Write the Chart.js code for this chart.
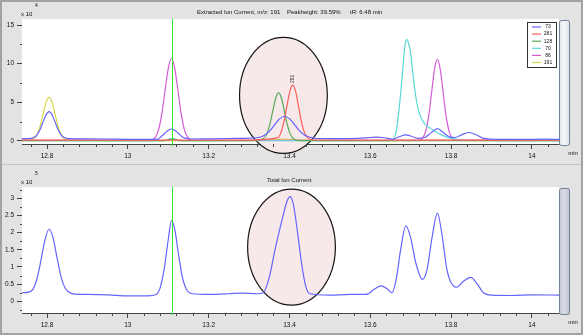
<!DOCTYPE html>
<html>
<head>
<meta charset="utf-8">
<script src="https://cdn.jsdelivr.net/npm/chart.js@4.4.1/dist/chart.umd.min.js"></script>
<style>
html, body { margin: 0; padding: 0; }
body { width: 583px; height: 335px; position: relative; background: #e3e3e3; overflow: hidden; }
#frame { position: absolute; left: 0; top: 0; width: 579px; height: 331px; border: 2px solid #a2a2a2; }
#sep { position: absolute; left: 2px; top: 164px; width: 579px; height: 1px; background: #c4c4c4; }
canvas { position: absolute; left: 0; }
#top { top: 0; }
#bot { top: 165px; }
</style>
</head>
<body>
<div id="frame"></div>
<div id="sep"></div>
<canvas id="top" width="583" height="165" style="width:583px;height:165px"></canvas>
<canvas id="bot" width="583" height="170" style="width:583px;height:170px"></canvas>
<script>
const FONT = '"Liberation Sans", Arial, sans-serif'

// x range in minutes
const xMin = 12.738
const xMax = 14.067
const markerTime = 13.11

// extracted ion traces, values x 10^4
const labels = ['73', '281', '128', '70', '86', '191']
const colors = ['#6464ff', '#ff5c5c', '#5aa85a', '#5ad8d8', '#d45ad4', '#d8d848']

const t73 = [12.738, 12.76, 12.7675, 12.775, 12.7825, 12.79, 12.7975, 12.805, 12.8125, 12.82, 12.8275, 12.835, 12.8425, 12.855,
  12.9, 12.95, 13.0, 13.05, 13.075, 13.084, 13.092, 13.1, 13.108, 13.116, 13.124, 13.132, 13.14, 13.155,
  13.2, 13.25, 13.3, 13.3255, 13.338, 13.3505, 13.363, 13.3755, 13.388, 13.4005, 13.413, 13.4255, 13.438, 13.4505, 13.47,
  13.52, 13.57, 13.6, 13.615, 13.635, 13.655, 13.672, 13.686, 13.70, 13.718, 13.735, 13.75, 13.766, 13.782, 13.797,
  13.81, 13.828, 13.845, 13.862, 13.88, 13.92, 13.98, 14.03, 14.067]
const y73 = [0.3, 0.33, 0.45, 0.77, 1.44, 2.44, 3.38, 3.8, 3.38, 2.44, 1.44, 0.77, 0.45, 0.3,
  0.28, 0.26, 0.22, 0.22, 0.25, 0.65, 1.03, 1.39, 1.55, 1.39, 1.03, 0.65, 0.4, 0.26,
  0.28, 0.32, 0.38, 0.48, 0.74, 1.28, 2.09, 2.86, 3.2, 2.86, 2.09, 1.28, 0.74, 0.48, 0.32,
  0.3, 0.35, 0.45, 0.5, 0.42, 0.25, 0.55, 0.8, 0.65, 0.35, 0.45, 1.05, 1.6, 1.05, 0.5,
  0.45, 0.85, 1.1, 0.8, 0.35, 0.22, 0.2, 0.24, 0.2]

const t281 = [12.738, 13.0, 13.2, 13.3, 13.3715, 13.3788, 13.386, 13.3935, 13.4007, 13.408, 13.4153, 13.4225, 13.4298, 13.437, 13.4445, 13.46, 13.6, 14.067]
const y281 = [0.12, 0.12, 0.12, 0.12, 0.43, 1.08, 2.44, 4.47, 6.39, 7.25, 6.39, 4.47, 2.44, 1.08, 0.43, 0.13, 0.12, 0.12]

const t128 = [12.738, 13.09, 13.11, 13.13, 13.3, 13.3365, 13.3438, 13.351, 13.3585, 13.3657, 13.373, 13.3803, 13.3875, 13.3948, 13.402, 13.4095, 13.425, 14.067]
const y128 = [0.05, 0.05, 0.25, 0.05, 0.05, 0.32, 0.89, 2.07, 3.83, 5.5, 6.25, 5.5, 3.83, 2.07, 0.89, 0.32, 0.06, 0.05]

const t70 = [12.738, 13.09, 13.11, 13.13, 13.64, 13.655, 13.665, 13.672, 13.68, 13.686, 13.69, 13.695, 13.70, 13.707, 13.714, 13.721, 13.735, 13.75, 13.762, 13.78, 13.803, 13.83, 14.067]
const y70 = [0.03, 0.03, 0.35, 0.03, 0.03, 0.1, 1.5, 4.5, 9.0, 12.4, 13.15, 12.6, 11.3, 8.0, 5.3, 3.6, 2.2, 1.6, 1.2, 0.7, 0.3, 0.1, 0.03]

const t86 = [12.738, 13.05, 13.058, 13.068, 13.076, 13.084, 13.092, 13.1, 13.108, 13.116, 13.124, 13.132, 13.14, 13.148, 13.16,
  13.72, 13.731, 13.738, 13.745, 13.752, 13.759, 13.766, 13.773, 13.78, 13.787, 13.794, 13.801, 13.812, 14.067]
const y86 = [0.08, 0.08, 0.1, 0.5, 1.45, 3.5, 6.5, 9.4, 10.7, 9.4, 6.5, 3.5, 1.45, 0.5, 0.1,
  0.1, 0.5, 1.45, 3.4, 6.4, 9.3, 10.55, 9.3, 6.4, 3.4, 1.45, 0.5, 0.12, 0.08]

const t191 = [12.738, 12.76, 12.7675, 12.775, 12.7825, 12.79, 12.7975, 12.805, 12.8125, 12.82, 12.8275, 12.835, 12.8425, 12.855,
  12.95, 13.1, 13.3, 13.36, 13.39, 13.42, 13.5, 13.7, 13.77, 13.85, 14.067]
const y191 = [0.1, 0.12, 0.3, 0.8, 1.85, 3.45, 5.0, 5.65, 5.0, 3.45, 1.85, 0.8, 0.3, 0.1,
  0.05, 0.05, 0.05, 0.15, 0.25, 0.15, 0.05, 0.05, 0.1, 0.05, 0.05]

// total ion current, values x 10^5
const tTic = [12.738, 12.755, 12.765, 12.775, 12.785, 12.795, 12.805, 12.815, 12.825, 12.835, 12.845, 12.86, 12.88, 12.9, 12.95,
  13.0, 13.05, 13.07, 13.08, 13.09, 13.1, 13.108, 13.116, 13.125, 13.135, 13.145, 13.16, 13.2, 13.25, 13.28, 13.32,
  13.335, 13.35, 13.365, 13.38, 13.395, 13.402, 13.41, 13.42, 13.43, 13.44, 13.45, 13.5, 13.55, 13.59, 13.61, 13.626,
  13.64, 13.654, 13.665, 13.675, 13.688, 13.7, 13.712, 13.729, 13.74, 13.752, 13.766, 13.778, 13.79, 13.813, 13.83,
  13.849, 13.865, 13.88, 13.9, 13.95, 14.0, 14.067]
const yTic = [0.25, 0.27, 0.35, 0.65, 1.2, 1.8, 2.1, 1.85, 1.25, 0.7, 0.38, 0.23, 0.2, 0.2, 0.19,
  0.16, 0.16, 0.2, 0.4, 0.95, 1.8, 2.35, 2.1, 1.4, 0.7, 0.35, 0.22, 0.2, 0.22, 0.24, 0.22,
  0.25, 0.7, 1.55, 2.3, 2.95, 3.05, 2.8, 2.0, 1.1, 0.45, 0.22, 0.18, 0.2, 0.2, 0.35, 0.45,
  0.38, 0.25, 0.7, 1.5, 2.2, 1.85, 1.15, 0.64, 0.9, 1.8, 2.57, 1.9, 0.9, 0.41, 0.58,
  0.7, 0.5, 0.25, 0.18, 0.17, 0.19, 0.18]

const zip = (xs, ys) => xs.map((x, i) => ({ x: x, y: ys[i] }))
const eicData = [zip(t73, y73), zip(t281, y281), zip(t128, y128), zip(t70, y70), zip(t86, y86), zip(t191, y191)]

function panelPlugin(p) {
  return {
    id: 'panel',
    beforeDraw(chart) {
      const { ctx, chartArea: a } = chart
      ctx.save()
      ctx.fillStyle = '#ffffff'
      ctx.fillRect(a.left, a.top, a.right - a.left, a.bottom - a.top)
      ctx.restore()
    },
    beforeDatasetsDraw(chart) {
      const { ctx, scales: { x, y } } = chart
      const e = p.ellipse
      const cx = x.getPixelForValue(e[0]), cy = y.getPixelForValue(e[1])
      const rx = Math.abs(x.getPixelForValue(e[0] + e[2]) - cx)
      const ry = Math.abs(y.getPixelForValue(e[1] + e[3]) - cy)
      ctx.save()
      ctx.beginPath()
      ctx.ellipse(cx, cy, rx, ry, 0, 0, Math.PI * 2)
      ctx.fillStyle = '#f7e9e9'
      ctx.fill()
      ctx.lineWidth = 1.2
      ctx.strokeStyle = '#151515'
      ctx.stroke()
      ctx.restore()
    },
    afterDatasetsDraw(chart) {
      const { ctx, chartArea: a, scales: { x, y } } = chart
      ctx.save()
      // retention time marker
      const mx = Math.round(x.getPixelForValue(markerTime)) + 0.5
      ctx.strokeStyle = '#2ee82e'
      ctx.lineWidth = 1
      ctx.beginPath()
      ctx.moveTo(mx, a.top)
      ctx.lineTo(mx, a.bottom + 2)
      ctx.stroke()

      // minor ticks
      ctx.strokeStyle = '#444'
      ctx.beginPath()
      for (let v = 12.76; v < xMax; v += 0.04) {
        const r = Math.round(v * 100) / 100
        if (Math.abs(r * 5 - Math.round(r * 5)) < 1e-6) continue
        const px = Math.round(x.getPixelForValue(r)) + 0.5
        ctx.moveTo(px, a.bottom)
        ctx.lineTo(px, a.bottom + 3)
      }
      for (let v = p.yMinorStart; v < p.yMax; v += p.yMinor) {
        const r = Math.round(v * 100) / 100
        if (Math.abs(r / p.yStep - Math.round(r / p.yStep)) < 1e-6) continue
        const py = Math.round(y.getPixelForValue(r)) + 0.5
        ctx.moveTo(a.left - 2, py)
        ctx.lineTo(a.left, py)
      }
      ctx.stroke()

      // scroll bar at the right
      const sx = a.right, sw = 10, st = a.top + 1, sh = a.bottom - a.top
      const g = ctx.createLinearGradient(sx, 0, sx + sw, 0)
      g.addColorStop(0, p.bar[0])
      g.addColorStop(0.5, p.bar[1])
      g.addColorStop(1, p.bar[0])
      ctx.fillStyle = g
      ctx.strokeStyle = '#72809a'
      ctx.beginPath()
      ctx.roundRect(sx + 0.5, st + 0.5, sw, sh, 2)
      ctx.fill()
      ctx.stroke()

      // texts
      ctx.fillStyle = '#111'
      ctx.textBaseline = 'middle'
      ctx.font = '6px ' + FONT
      ctx.textAlign = 'left'
      p.title.forEach(tt => ctx.fillText(tt[0], tt[1], a.top - 7))
      ctx.fillText('x 10', 21, a.top - 5)
      ctx.font = '5px ' + FONT
      ctx.fillText(p.exp, 35, a.top - 13)
      ctx.font = '6px ' + FONT
      ctx.textAlign = 'center'
      ctx.fillText('min', a.right + 14, a.bottom + 9)

      if (p.legend) {
        const lx = 527, ly = a.top + 3, lw = 29, lh = 45
        ctx.fillStyle = '#fff'
        ctx.fillRect(lx, ly, lw, lh)
        ctx.strokeStyle = '#333'
        ctx.lineWidth = 1
        ctx.strokeRect(lx + 0.5, ly + 0.5, lw, lh)
        labels.forEach((lab, i) => {
          const yy = ly + 5 + i * 7.1
          ctx.strokeStyle = colors[i]
          ctx.lineWidth = 1.2
          ctx.beginPath()
          ctx.moveTo(lx + 5, yy)
          ctx.lineTo(lx + 14, yy)
          ctx.stroke()
          ctx.fillStyle = '#111'
          ctx.font = '5px ' + FONT
          ctx.fillText(lab, lx + 21, yy)
        })
        // peak label on ion 281
        let k = 0
        y281.forEach((v, i) => { if (v > y281[k]) k = i })
        const px = x.getPixelForValue(t281[k]), py = y.getPixelForValue(y281[k])
        ctx.save()
        ctx.translate(px, py - 6)
        ctx.rotate(-Math.PI / 2)
        ctx.fillStyle = '#333'
        ctx.font = '5px ' + FONT
        ctx.fillText('281', 0, 0)
        ctx.restore()
      }
      ctx.restore()
    }
  }
}

function makeOptions(p) {
  return {
    responsive: false,
    animation: false,
    devicePixelRatio: 1,
    events: [],
    layout: { padding: { top: p.padTop, right: 24, left: 0, bottom: 0 } },
    elements: {
      point: { radius: 0 },
      line: { borderWidth: 1.2, cubicInterpolationMode: 'monotone' }
    },
    plugins: { legend: { display: false }, tooltip: { enabled: false } },
    scales: {
      x: {
        type: 'linear', min: xMin, max: xMax,
        afterFit: s => { s.height = p.axisH },
        border: { color: '#444', width: 1 },
        grid: { drawOnChartArea: false, tickLength: 5, tickColor: '#444' },
        ticks: {
          stepSize: 0.2, includeBounds: false, maxRotation: 0, autoSkip: false, padding: 3,
          color: '#111', font: { family: FONT, size: 6.5 },
          callback: v => String(Number(v.toFixed(1)))
        }
      },
      y: {
        min: p.yMin, max: p.yMax,
        afterFit: s => { s.width = 22 },
        border: { display: false },
        grid: { drawOnChartArea: false, tickLength: 5, tickColor: '#444' },
        ticks: {
          stepSize: p.yStep, includeBounds: false, padding: 3,
          color: '#111', font: { family: FONT, size: 6.5 },
          callback: v => String(Number(v.toFixed(2)))
        }
      }
    }
  }
}

const topCfg = {
  padTop: 19, axisH: 21, yMin: -0.388, yMax: 15.776, yStep: 5, yMinor: 2.5, yMinorStart: 2.5,
  ellipse: [13.385, 5.89, 0.1086, 7.5],
  bar: ['#dde1ea', '#f6f7fa'],
  exp: '4',
  legend: true,
  title: [['Extracted Ion Current, m/z: 191', 197], ['Peakheight: 39.59%', 287], ['tR: 6.48 min', 350]]
}

const botCfg = {
  padTop: 22, axisH: 22, yMin: -0.34, yMax: 3.33, yStep: 0.5, yMinor: 0.25, yMinorStart: -0.25,
  ellipse: [13.405, 1.58, 0.1086, 1.69],
  bar: ['#c4c5d4', '#dcdce6'],
  exp: '5',
  legend: false,
  title: [['Total Ion Current', 267]]
}

new Chart(document.getElementById('top'), {
  type: 'line',
  data: {
    datasets: eicData.map((d, i) => ({ label: labels[i], data: d, borderColor: colors[i], fill: false }))
  },
  options: makeOptions(topCfg),
  plugins: [panelPlugin(topCfg)]
})

new Chart(document.getElementById('bot'), {
  type: 'line',
  data: {
    datasets: [{ label: 'TIC', data: zip(tTic, yTic), borderColor: '#6464ff', fill: false }]
  },
  options: makeOptions(botCfg),
  plugins: [panelPlugin(botCfg)]
})
</script>
</body>
</html>
